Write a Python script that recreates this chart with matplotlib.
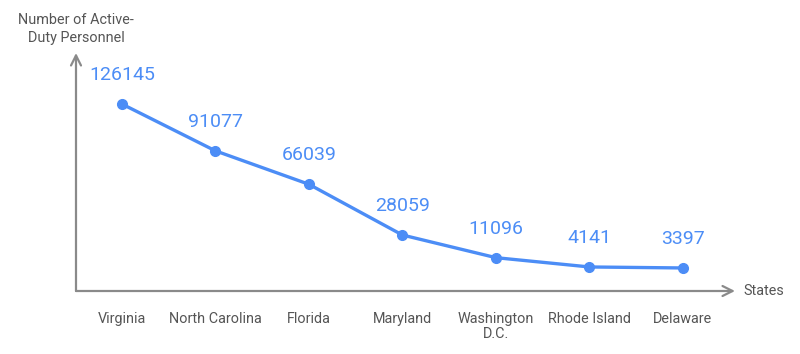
import matplotlib
matplotlib.use("Agg")
import matplotlib.pyplot as plt

states = ["Virginia", "North Carolina", "Florida", "Maryland", "Washington\nD.C.", "Rhode Island", "Delaware"]
personnel = [126145, 91077, 66039, 28059, 11096, 4141, 3397]

plt.rcParams['font.family'] = ['Roboto', 'DejaVu Sans']

fig = plt.figure(figsize=(8, 3.54), dpi=100)
ax = fig.add_axes([76/800, 1-291/354, (735-76)/800, (291-53)/354])

line_color = "#4C8DF6"
text_color = "#555555"
axis_color = "#8A8A8A"

x = list(range(len(states)))
ax.plot(x, personnel, color=line_color, lw=2.4, marker='o', ms=7, solid_capstyle='round', zorder=3)
for xi, v in zip(x, personnel):
    ax.annotate(f"{v}", (xi, v), xytext=(0, 21), textcoords='offset points',
                ha='center', va='center', fontsize=14, color=line_color)

ax.set_xlim(-0.49, 6.556)
ax.set_ylim(-13850, 164300)
ax.set_xticks(x)
ax.set_xticklabels(states, fontsize=10.4, color=text_color, linespacing=1.15)
ax.tick_params(axis='x', length=0, pad=15)
ax.set_yticks([])
for s in ax.spines.values():
    s.set_visible(False)

ax.annotate("", xy=(1.0, 0), xytext=(0, 0), xycoords='axes fraction',
            arrowprops=dict(arrowstyle='->', color=axis_color, lw=1.6, mutation_scale=18, shrinkA=0, shrinkB=0))
ax.annotate("", xy=(0, 1.0), xytext=(0, 0), xycoords='axes fraction',
            arrowprops=dict(arrowstyle='->', color=axis_color, lw=1.6, mutation_scale=18, shrinkA=0, shrinkB=0))

fig.text(743/800, 1-291/354, "States", ha='left', va='center', fontsize=10.4, color=text_color)
fig.text(76/800, 1-29/354, "Number of Active-\nDuty Personnel", ha='center', va='center',
         fontsize=10.4, color=text_color, linespacing=1.3)

fig.savefig("out.png", dpi=100)
